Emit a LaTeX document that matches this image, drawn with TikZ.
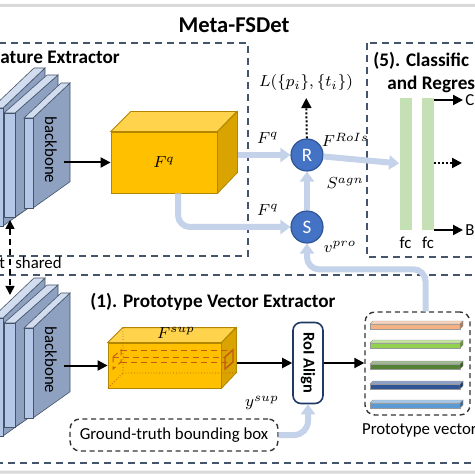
\documentclass[tikz,border=0pt]{standalone}
\usepackage{fontspec}
\setmainfont{Carlito}
\usetikzlibrary{positioning,arrows.meta}
\definecolor{flowblue}{HTML}{C4D2EA}
\definecolor{frameblue}{HTML}{44546A}
\definecolor{gold}{HTML}{FFC000}
\definecolor{plate}{HTML}{B4C7E7}
\definecolor{plateside}{HTML}{8EA1C0}
\definecolor{platetop}{HTML}{D2DDF0}
\definecolor{circ}{HTML}{4472C4}
\definecolor{navy}{HTML}{203864}
\definecolor{fcgreen}{HTML}{C5E0B4}
\definecolor{roiline}{HTML}{C55A11}
\definecolor{barA}{HTML}{F4B183}
\definecolor{barB}{HTML}{92D050}
\definecolor{barC}{HTML}{548235}
\definecolor{barD}{HTML}{2F5597}
\definecolor{barE}{HTML}{5B9BD5}
\begin{document}
\begin{tikzpicture}[x=0.5pt,y=-0.5pt,
  title/.style={font=\fontsize{11.3}{13}\selectfont\bfseries},
  head/.style={font=\fontsize{9.6}{11}\selectfont\bfseries,inner sep=0pt},
  lbl/.style={font=\fontsize{8.4}{10}\selectfont},
  mth/.style={font=\fontsize{8.2}{10}\selectfont},
  region/.style={draw=frameblue,line width=0.7pt,dash pattern=on 3.5pt off 2.5pt},
  flow/.style={draw=flowblue,line width=3pt,-{Triangle[width=7pt,length=5pt]}},
  arr/.style={line width=1pt,-{Triangle[width=5pt,length=5pt]}},
  op/.style={circle,fill=circ,draw=barD,line width=0.6pt,minimum size=16pt,inner sep=0pt,text=white,font=\fontsize{9.5}{10}\selectfont},
  cube/.style={fill=gold,draw=gold!70!black,line width=0.4pt,inner sep=0pt},
  fcbar/.style={fill=fcgreen,minimum width=6pt,minimum height=66pt,inner sep=0pt},
  dbox/.style={draw=black!80,dash pattern=on 2.5pt off 1.8pt,rounded corners=5pt,line width=0.7pt}]
\useasboundingbox (0,0) rectangle (474,474);
\draw[gray!30,line width=1.5pt,rounded corners=6pt] (-20,5.5) rectangle (494,472);
\draw[region] (-20,43) rectangle (248,256);
\draw[region] (367,43) rectangle (494,257);
\draw[region] (-20,275) rectangle (494,463);
\node[title] (ttl) at (234,25) {Meta-FSDet};
\node[head,anchor=west] (hq) at (0,57) {ature Extractor};
\node[head,anchor=west] (hc1) at (373,61) {(5). Classific};
\node[head,anchor=west] (hc2) at (387,84) {and Regres};
\node[head,anchor=west] (hp) at (90,302) {(1). Prototype Vector Extractor};
\foreach \sy/\nm in {0/bbq,210/bbs}{
\begin{scope}[shift={(0,\sy)}]
\foreach \fx/\fw/\ft/\fb/\dx/\dy in {-8/11/108/226/42/-40,4/11/113/217/43/-38,24/9/118/208/37/-35}{
  \filldraw[fill=plateside,draw=frameblue,line width=0.3pt] (\fx+\fw,\ft) -- ++(\dx,\dy) -- (\fx+\fw+\dx,\fb+0.75*\dy) -- (\fx+\fw,\fb) -- cycle;
  \filldraw[fill=platetop,draw=frameblue,line width=0.3pt] (\fx,\ft) -- ++(\dx,\dy) -- ++(\fw,0) -- (\fx+\fw,\ft) -- cycle;
  \filldraw[fill=plate,draw=frameblue,line width=0.3pt] (\fx,\ft) rectangle (\fx+\fw,\fb);
}
\node[lbl,rotate=-90] (\nm) at (51,150) {backbone};
\end{scope}
}
\node[cube,minimum width=53pt,minimum height=30.5pt,font=\fontsize{8.4}{10}\selectfont] (fq) at (164,162.5) {$F^q$};
\node[cube,minimum width=56.5pt,minimum height=22.5pt] (fsup) at (164.5,365.5) {};
\node[op] (r) at (307,155) {R};
\node[op] (s) at (307,227) {S};
\node[mth] (loss) at (306,83) {$L(\{p_i\},\{t_i\})$};
\node[fcbar] (fc1) at (405.5,164) {};
\node[fcbar] (fc2) at (428,164) {};
\node[lbl,below=0pt of fc1] (fcl1) {fc};
\node[lbl,below=0pt of fc2] (fcl2) {fc};
\node[lbl,anchor=west,inner sep=1pt] (cls) at (463,100) {C};
\node[lbl,anchor=west,inner sep=1pt] (bbox) at (463,230) {B};
\coordinate (mid) at (462,163);
\node[draw=navy,line width=0.8pt,rounded corners=4pt,fill=white,minimum width=40.5pt,minimum height=15pt,inner sep=0pt,rotate=-90,font=\fontsize{8.2}{10}\selectfont\bfseries] (roi) at (308,363) {RoI Align};
\node[dbox,minimum width=52.5pt,minimum height=51.5pt] (pv) at (417.5,363.5) {};
\node[lbl,anchor=west] (pvl) at (355,430) {Prototype vector};
\node[dbox,lbl,minimum width=104pt,minimum height=16pt] (gt) at (174,435) {Ground-truth bounding box};
\node[mth] (vpl) at (340,247) {$v^{pro}$};
\node[mth] (ysl) at (262,403) {$y^{sup}$};
\node[lbl,anchor=east,inner sep=1pt] (sht) at (7.5,263) {t};
\node[lbl,anchor=west,inner sep=1pt] (shw) at (13,263) {shared};
\coordinate (shtop) at (10,220);
\coordinate (shbot) at (10,295);
\draw[line width=0.8pt,dash pattern=on 3pt off 2pt,{Triangle[width=4.5pt,length=4.5pt]}-{Triangle[width=4.5pt,length=4.5pt]}] (shtop) -- (shbot);
\draw[arr] (bbq.north |- fq) -- (fq);
\draw[arr] (bbs.north |- fsup) -- (fsup);
\draw[flow] (fq.east |- r) -- node[mth,above=1pt,pos=0.69] {$F^q$} (r);
\draw[flow,rounded corners=6pt] ([xshift=7pt]fq.south) |- node[mth,above=1pt,pos=0.9] {$F^q$} (s);
\draw[flow] (s) -- node[mth,right=5pt,pos=0.7] {$S^{agn}$} (r);
\draw[flow] (r) -- node[mth,above=1pt,pos=0.29] {$F^{RoIs}$} (fc1);
\draw[arr,densely dotted] (r) -- (loss);
\draw[arr] (fc2.east |- cls) -- (cls.west);
\draw[arr,densely dotted] (fc2.east |- mid) -- (mid);
\draw[arr] (fc2.east |- bbox) -- (bbox.west);
\draw[flow,rounded corners=6pt] ([xshift=4pt]pv.north) -- ++(0,-42) -| (s);
\draw[flow,rounded corners=7pt] (gt) -| (roi);
\draw[arr] (fsup.east |- roi) -- (roi);
\draw[arr] (roi) -- (roi -| pv.west);
\filldraw[fill=gold!70!white,draw=gold!70!black,line width=0.4pt] (fq.north west) -- ++(20,-20) -- ++(106,0) -- (fq.north east) -- cycle;
\filldraw[fill=gold!85!black,draw=gold!70!black,line width=0.4pt] (fq.north east) -- ++(20,-20) -- ++(0,61) -- (fq.south east) -- cycle;
\filldraw[fill=gold!70!white,draw=gold!70!black,line width=0.4pt] (fsup.north west) -- ++(15,-15) -- ++(113,0) -- (fsup.north east) -- cycle;
\filldraw[fill=gold!85!black,draw=gold!70!black,line width=0.4pt] (fsup.north east) -- ++(15,-15) -- ++(0,45) -- (fsup.south east) -- cycle;
\node[mth] (fsl) at (176,333) {$F^{sup}$};
\draw[roiline,densely dotted,line width=0.4pt] (123,328) -- (123,373) -- (236,373) (108,388) -- (123,373);
\draw[roiline,densely dashed,line width=0.5pt] (113,357) -- (121,350) -- (121,362) -- (113,369) -- cycle;
\draw[roiline,densely dashed,line width=0.4pt] (121,350) -- (233,350) (121,362) -- (233,362) (113,357) -- (225,357);
\draw[roiline,line width=0.7pt] (225,357) -- (233,350) -- (233,362) -- (225,369) -- cycle;
\foreach \by/\bc in {326/barA,345/barB,366/barC,386/barD,405/barE}{
  \filldraw[fill=\bc,draw=black!40,line width=0.2pt] (370,\by-2) rectangle (460,\by+3);
  \filldraw[fill=\bc!55!white,draw=black!40,line width=0.2pt] (370,\by-2) -- (373,\by-5) -- (463,\by-5) -- (460,\by-2) -- cycle;
  \filldraw[fill=\bc!70!black,draw=black!40,line width=0.2pt] (460,\by-2) -- (463,\by-5) -- (463,\by) -- (460,\by+3) -- cycle;
}
\end{tikzpicture}
\end{document}
